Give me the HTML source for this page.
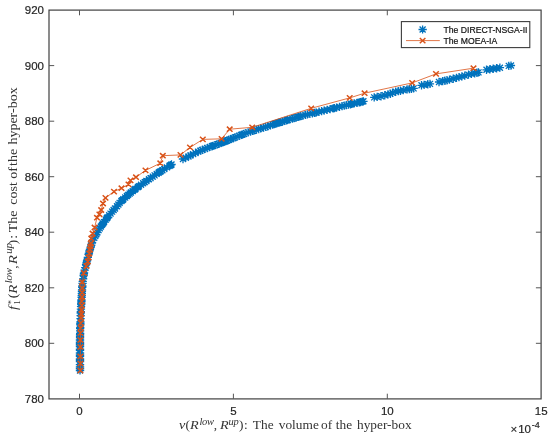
<!DOCTYPE html>
<html lang="en"><head><meta charset="utf-8"><title>Pareto fronts</title>
<style>
html,body{margin:0;padding:0;background:#fff}
svg{display:block}
.t{font-family:"Liberation Sans",Arial,Helvetica,sans-serif;font-size:11.5px;fill:#262626;stroke:#262626;stroke-width:.2px}
.lg{font-family:"Liberation Sans",Arial,Helvetica,sans-serif;font-size:9px;fill:#111;stroke:#111;stroke-width:.2px}
.lab{font-family:"Liberation Serif","Times New Roman",serif;font-size:12.5px;fill:#333}
.it{font-style:italic;font-size:13.3px}
.sup{font-size:9.8px;letter-spacing:-.25px}
.sub{font-size:7.5px}
</style></head><body>
<svg width="550" height="439" viewBox="0 0 550 439">
<rect width="550" height="439" fill="#fff"/>
<rect x="49.0" y="10.1" width="492.1" height="388.8" fill="#fff" stroke="#404040" stroke-width="1.2"/>
<path d="M79.5 398.85V393.7M79.5 10.1V15.3M233.4 398.85V393.7M233.4 10.1V15.3M387.3 398.85V393.7M387.3 10.1V15.3M49.0 343.3H54.2M541.1 343.3H535.9M49.0 287.8H54.2M541.1 287.8H535.9M49.0 232.2H54.2M541.1 232.2H535.9M49.0 176.7H54.2M541.1 176.7H535.9M49.0 121.2H54.2M541.1 121.2H535.9M49.0 65.6H54.2M541.1 65.6H535.9" stroke="#555" stroke-width="1" fill="none"/>
<text class="t" transform="translate(79.5,414.5) scale(1.0,1)" text-anchor="middle">0</text>
<text class="t" transform="translate(233.4,414.5) scale(1.0,1)" text-anchor="middle">5</text>
<text class="t" transform="translate(387.3,414.5) scale(1.0,1)" text-anchor="middle">10</text>
<text class="t" transform="translate(541.2,414.5) scale(1.0,1)" text-anchor="middle">15</text>
<text class="t" transform="translate(44,402.8) scale(1.0,1)" text-anchor="end">780</text>
<text class="t" transform="translate(44,347.2) scale(1.0,1)" text-anchor="end">800</text>
<text class="t" transform="translate(44,291.7) scale(1.0,1)" text-anchor="end">820</text>
<text class="t" transform="translate(44,236.1) scale(1.0,1)" text-anchor="end">840</text>
<text class="t" transform="translate(44,180.6) scale(1.0,1)" text-anchor="end">860</text>
<text class="t" transform="translate(44,125.1) scale(1.0,1)" text-anchor="end">880</text>
<text class="t" transform="translate(44,69.5) scale(1.0,1)" text-anchor="end">900</text>
<text class="t" transform="translate(44,14) scale(1.0,1)" text-anchor="end">920</text>
<text class="t" y="432.9"><tspan x="510.4">×</tspan><tspan x="518.2">10</tspan><tspan x="531.7" dy="-5.2" font-size="9">-4</tspan></text>
<path d="M370.1 97.4H378.3M374.2 93.2V101.6M371.2 94.4L377.2 100.4M371.2 100.4L377.2 94.4M373.1 96.9H381.3M377.2 92.8V101.1M374.2 93.9L380.2 99.9M374.2 99.9L380.2 93.9M376.9 96.2H385.1M381 92V100.4M378 93.2L384 99.2M378 99.2L384 93.2M380.7 95.3H388.9M384.8 91.1V99.5M381.8 92.3L387.8 98.3M381.8 98.3L387.8 92.3M383.9 94.4H392.1M388 90.2V98.6M385 91.4L391 97.4M385 97.4L391 91.4M386.2 93.7H394.4M390.3 89.5V97.9M387.3 90.7L393.3 96.7M387.3 96.7L393.3 90.7M75.8 370.5H84.2M80 366.4V374.6M77 367.5L83 373.5M77 373.5L83 367.5M75.8 368.5H84.2M80 364.4V372.6M77 365.5L83 371.5M77 371.5L83 365.5M75.8 366.8H84.2M80 362.7V370.9M77 363.8L83 369.8M77 369.8L83 363.8M75.8 364.6H84.2M80 360.5V368.8M77 361.6L83 367.6M77 367.6L83 361.6M75.8 361.5H84.2M80 357.4V365.6M77 358.5L83 364.5M77 364.5L83 358.5M75.8 360.2H84.2M80 356.1V364.3M77 357.2L83 363.2M77 363.2L83 357.2M75.8 358.9H84.2M80 354.8V363M77 355.9L83 361.9M77 361.9L83 355.9M75.8 356.3H84.2M80 352.2V360.4M77 353.3L83 359.3M77 359.3L83 353.3M75.8 355H84.2M80 350.9V359.1M77 352L83 358M77 358L83 352M75.8 353H84.2M80 348.9V357.1M77 350L83 356M77 356L83 350M75.8 350.4H84.2M80 346.2V354.5M77 347.4L83 353.4M77 353.4L83 347.4M75.8 349.1H84.2M80 345V353.2M77 346.1L83 352.1M77 352.1L83 346.1M75.8 346.5H84.2M80 342.4V350.6M77 343.5L83 349.5M77 349.5L83 343.5M75.8 344.8H84.2M80 340.7V348.9M77 341.8L83 347.8M77 347.8L83 341.8M75.8 343.5H84.2M80 339.4V347.6M77 340.5L83 346.5M77 346.5L83 340.5M75.8 342.2H84.2M80 338.1V346.3M77 339.2L83 345.2M77 345.2L83 339.2M75.8 340H84.2M80 335.9V344.1M77 337L83 343M77 343L83 337M75.9 337.8H84.2M80 333.7V342M77 334.8L83 340.8M77 340.8L83 334.8M75.9 336.5H84.2M80.1 332.4V340.7M77.1 333.5L83.1 339.5M77.1 339.5L83.1 333.5M75.9 334.8H84.2M80.1 330.7V339M77.1 331.8L83.1 337.8M77.1 337.8L83.1 331.8M76 333.5H84.3M80.1 329.4V337.7M77.1 330.5L83.1 336.5M77.1 336.5L83.1 330.5M76 330.9H84.3M80.2 326.8V335.1M77.2 327.9L83.2 333.9M77.2 333.9L83.2 327.9M76 328.7H84.3M80.2 324.6V332.9M77.2 325.7L83.2 331.7M77.2 331.7L83.2 325.7M76.1 327.4H84.4M80.2 323.3V331.6M77.2 324.4L83.2 330.4M77.2 330.4L83.2 324.4M76.2 324.8H84.5M80.3 320.7V329M77.3 321.8L83.3 327.8M77.3 327.8L83.3 321.8M76.2 323.5H84.5M80.4 319.4V327.7M77.4 320.5L83.4 326.5M77.4 326.5L83.4 320.5M76.3 321.8H84.6M80.4 317.7V326M77.4 318.8L83.4 324.8M77.4 324.8L83.4 318.8M76.4 318.7H84.7M80.6 314.6V322.9M77.6 315.7L83.6 321.7M77.6 321.7L83.6 315.7M76.5 315.6H84.8M80.7 311.5V319.8M77.7 312.6L83.7 318.6M77.7 318.6L83.7 312.6M76.6 313H84.9M80.8 308.9V317.2M77.8 310L83.8 316M77.8 316L83.8 310M76.7 311.7H85M80.9 307.6V315.9M77.9 308.7L83.9 314.7M77.9 314.7L83.9 308.7M76.8 309.1H85.1M81 305V313.3M78 306.1L84 312.1M78 312.1L84 306.1M76.9 306.5H85.2M81.1 302.4V310.7M78.1 303.5L84.1 309.5M78.1 309.5L84.1 303.5M77.1 304.3H85.4M81.2 300.2V308.5M78.2 301.3L84.2 307.3M78.2 307.3L84.2 301.3M77.1 303H85.4M81.3 298.9V307.2M78.3 300L84.3 306M78.3 306L84.3 300M77.3 301.3H85.6M81.4 297.2V305.5M78.4 298.3L84.4 304.3M78.4 304.3L84.4 298.3M77.3 300H85.6M81.5 295.9V304.2M78.5 297L84.5 303M78.5 303L84.5 297M77.5 297.4H85.8M81.6 293.3V301.6M78.6 294.4L84.6 300.4M78.6 300.4L84.6 294.4M77.6 295.7H85.9M81.7 291.6V299.9M78.7 292.7L84.7 298.7M78.7 298.7L84.7 292.7M77.7 293.7H86M81.9 289.6V297.9M78.9 290.7L84.9 296.7M78.9 296.7L84.9 290.7M77.8 291.5H86.1M82 287.4V295.7M79 288.5L85 294.5M79 294.5L85 288.5M77.9 289.9H86.2M82.1 285.7V294M79.1 286.9L85.1 292.9M79.1 292.9L85.1 286.9M78.1 287.3H86.4M82.2 283.1V291.4M79.2 284.3L85.2 290.3M79.2 290.3L85.2 284.3M78.2 286H86.5M82.3 281.8V290.1M79.3 283L85.3 289M79.3 289L85.3 283M78.4 283.4H86.7M82.5 279.2V287.5M79.5 280.4L85.5 286.4M79.5 286.4L85.5 280.4M78.6 281.4H86.9M82.7 277.2V285.5M79.7 278.4L85.7 284.4M79.7 284.4L85.7 278.4M79 278.8H87.3M83.1 274.7V283M80.1 275.8L86.1 281.8M80.1 281.8L86.1 275.8M79.5 275.7H87.8M83.6 271.6V279.9M80.6 272.7L86.6 278.7M80.6 278.7L86.6 272.7M79.7 274.1H88M83.9 269.9V278.2M80.9 271.1L86.9 277.1M80.9 277.1L86.9 271.1M79.9 272.8H88.2M84.1 268.6V276.9M81.1 269.8L87.1 275.8M81.1 275.8L87.1 269.8M80.5 270.2H88.8M84.6 266.1V274.4M81.6 267.2L87.6 273.2M81.6 273.2L87.6 267.2M81.1 267.7H89.4M85.3 263.6V271.9M82.3 264.7L88.3 270.7M82.3 270.7L88.3 264.7M81.9 264.7H90.2M86 260.6V268.9M83 261.7L89 267.7M83 267.7L89 261.7M82.3 263.1H90.6M86.4 258.9V267.2M83.4 260.1L89.4 266.1M83.4 266.1L89.4 260.1M82.8 261.1H91.1M86.9 257V265.3M83.9 258.1L89.9 264.1M83.9 264.1L89.9 258.1M83.1 259.9H91.4M87.2 255.7V264M84.2 256.9L90.2 262.9M84.2 262.9L90.2 256.9M83.7 257.3H92M87.9 253.2V261.5M84.9 254.3L90.9 260.3M84.9 260.3L90.9 254.3M84.4 254.3H92.7M88.6 250.2V258.5M85.6 251.3L91.6 257.3M85.6 257.3L91.6 251.3M84.8 253.1H93.1M88.9 248.9V257.2M85.9 250.1L91.9 256.1M85.9 256.1L91.9 250.1M85.4 250.6H93.7M89.6 246.4V254.7M86.6 247.6L92.6 253.6M86.6 253.6L92.6 247.6M85.8 249.3H94.1M90 245.2V253.5M87 246.3L93 252.3M87 252.3L93 246.3M86.6 246.8H94.9M90.8 242.7V251M87.8 243.8L93.8 249.8M87.8 249.8L93.8 243.8M87.1 245.2H95.4M91.3 241.1V249.4M88.3 242.2L94.3 248.2M88.3 248.2L94.3 242.2M87.8 243.1H96.1M92 239V247.3M89 240.1L95 246.1M89 246.1L95 240.1M88.8 240.2H97.1M93 236.1V244.4M90 237.2L96 243.2M90 243.2L96 237.2M90.1 237.9H98.4M94.2 233.8V242.1M91.2 234.9L97.2 240.9M91.2 240.9L97.2 234.9M91.2 236H99.5M95.3 231.9V240.2M92.3 233L98.3 239M92.3 239L98.3 233M92.1 234.3H100.4M96.3 230.1V238.4M93.3 231.3L99.3 237.3M93.3 237.3L99.3 231.3M93.2 232.4H101.5M97.4 228.2V236.5M94.4 229.4L100.4 235.4M94.4 235.4L100.4 229.4M94.5 230.1H102.8M98.6 225.9V234.2M95.6 227.1L101.6 233.1M95.6 233.1L101.6 227.1M95.6 228.2H103.9M99.8 224.1V232.4M96.8 225.2L102.8 231.2M96.8 231.2L102.8 225.2M96.7 226.5H105M100.9 222.4V230.7M97.9 223.5L103.9 229.5M97.9 229.5L103.9 223.5M97.9 224.9H106.2M102 220.7V229M99 221.9L105 227.9M99 227.9L105 221.9M98.9 223.5H107.2M103 219.4V227.7M100 220.5L106 226.5M100 226.5L106 220.5M99.8 222.1H108.1M104 218V226.3M101 219.1L107 225.1M101 225.1L107 219.1M101.6 219.6H109.9M105.8 215.5V223.8M102.8 216.6L108.8 222.6M102.8 222.6L108.8 216.6M102.7 218.3H111M106.8 214.1V222.4M103.8 215.3L109.8 221.3M103.8 221.3L109.8 215.3M103.5 217.2H111.8M107.6 213.1V221.4M104.6 214.2L110.6 220.2M104.6 220.2L110.6 214.2M105.1 215.2H113.4M109.2 211V219.3M106.2 212.2L112.2 218.2M106.2 218.2L112.2 212.2M106.3 213.6H114.6M110.5 209.5V217.8M107.5 210.6L113.5 216.6M107.5 216.6L113.5 210.6M108 211.6H116.3M112.1 207.5V215.8M109.1 208.6L115.1 214.6M109.1 214.6L115.1 208.6M109.5 210H117.8M113.6 205.8V214.1M110.6 207L116.6 213M110.6 213L116.6 207M110.8 208.5H119.1M115 204.4V212.7M112 205.5L118 211.5M112 211.5L118 205.5M112.9 206.2H121.2M117 202V210.3M114 203.2L120 209.2M114 209.2L120 203.2M114.2 204.5H122.5M118.4 200.3V208.6M115.4 201.5L121.4 207.5M115.4 207.5L121.4 201.5M115.5 202.9H123.8M119.6 198.7V207M116.6 199.9L122.6 205.9M116.6 205.9L122.6 199.9M117.2 201H125.5M121.4 196.9V205.2M118.4 198L124.4 204M118.4 204L124.4 198M118.2 200.1H126.5M122.4 196V204.3M119.4 197.1L125.4 203.1M119.4 203.1L125.4 197.1M119.2 199.3H127.5M123.3 195.1V203.4M120.3 196.3L126.3 202.3M120.3 202.3L126.3 196.3M121.1 197.5H129.4M125.2 193.4V201.7M122.2 194.5L128.2 200.5M122.2 200.5L128.2 194.5M122.7 196H131M126.9 191.9V200.2M123.9 193L129.9 199M123.9 199L129.9 193M124 194.9H132.3M128.1 190.7V199M125.1 191.9L131.1 197.9M125.1 197.9L131.1 191.9M125.5 193.6H133.8M129.6 189.4V197.7M126.6 190.6L132.6 196.6M126.6 196.6L132.6 190.6M126.8 192.5H135.1M130.9 188.3V196.6M127.9 189.5L133.9 195.5M127.9 195.5L133.9 189.5M128.5 191.1H136.8M132.7 187V195.3M129.7 188.1L135.7 194.1M129.7 194.1L135.7 188.1M130.3 189.8H138.6M134.4 185.6V193.9M131.4 186.8L137.4 192.8M131.4 192.8L137.4 186.8M131.3 189H139.6M135.4 184.9V193.2M132.4 186L138.4 192M132.4 192L138.4 186M133.8 187.1H142.1M137.9 183V191.3M134.9 184.1L140.9 190.1M134.9 190.1L140.9 184.1M134.8 186.3H143.1M138.9 182.2V190.5M135.9 183.3L141.9 189.3M135.9 189.3L141.9 183.3M136.9 184.8H145.2M141 180.6V188.9M138 181.8L144 187.8M138 187.8L144 181.8M139 183.3H147.3M143.2 179.1V187.4M140.2 180.3L146.2 186.3M140.2 186.3L146.2 180.3M140.6 182.1H148.9M144.8 178V186.3M141.8 179.1L147.8 185.1M141.8 185.1L147.8 179.1M142.3 181H150.6M146.4 176.8V185.1M143.4 178L149.4 184M143.4 184L149.4 178M144.8 179.2H153.1M149 175.1V183.4M146 176.2L152 182.2M146 182.2L152 176.2M146.5 178.1H154.8M150.6 173.9V182.2M147.6 175.1L153.6 181.1M147.6 181.1L153.6 175.1M148.6 176.6H156.9M152.8 172.5V180.8M149.8 173.6L155.8 179.6M149.8 179.6L155.8 173.6M150.4 175.4H158.7M154.6 171.2V179.5M151.6 172.4L157.6 178.4M151.6 178.4L157.6 172.4M152.6 173.9H160.9M156.7 169.8V178.1M153.7 170.9L159.7 176.9M153.7 176.9L159.7 170.9M154.4 172.7H162.7M158.6 168.5V176.8M155.6 169.7L161.6 175.7M155.6 175.7L161.6 169.7M155.5 171.9H163.8M159.6 167.8V176.1M156.6 168.9L162.6 174.9M156.6 174.9L162.6 168.9M156.6 171.2H164.9M160.7 167.1V175.4M157.7 168.2L163.7 174.2M157.7 174.2L163.7 168.2M158.3 170.2H166.6M162.4 166V174.3M159.4 167.2L165.4 173.2M159.4 173.2L165.4 167.2M160.1 169H168.4M164.3 164.9V173.2M161.3 166L167.3 172M161.3 172L167.3 166M162.8 167.4H171.1M166.9 163.3V171.6M163.9 164.4L169.9 170.4M163.9 170.4L169.9 164.4M165.4 165.8H173.7M169.6 161.6V169.9M166.6 162.8L172.6 168.8M166.6 168.8L172.6 162.8M166.5 165.1H174.8M170.7 160.9V169.2M167.7 162.1L173.7 168.1M167.7 168.1L173.7 162.1M167.3 164.5H175.7M171.5 160.3V168.7M168.5 161.5L174.5 167.5M168.5 167.5L174.5 161.5M178.8 159H187.2M183 154.8V163.2M180 156L186 162M180 162L186 156M181.7 157.7H190M185.8 153.5V161.8M182.8 154.7L188.8 160.7M182.8 160.7L188.8 154.7M184.5 156.4H192.8M188.6 152.2V160.5M185.6 153.4L191.6 159.4M185.6 159.4L191.6 153.4M186.3 155.5H194.6M190.4 151.3V159.6M187.4 152.5L193.4 158.5M187.4 158.5L193.4 152.5M189 154.1H197.3M193.2 150V158.3M190.2 151.1L196.2 157.1M190.2 157.1L196.2 151.1M191.4 153H199.7M195.5 148.8V157.1M192.5 150L198.5 156M192.5 156L198.5 150M194.2 151.6H202.5M198.3 147.5V155.8M195.3 148.6L201.3 154.6M195.3 154.6L201.3 148.6M196.2 150.7H204.5M200.3 146.5V154.8M197.3 147.7L203.3 153.7M197.3 153.7L203.3 147.7M198 150H206.3M202.2 145.8V154.1M199.2 147L205.2 153M199.2 153L205.2 147M200.9 148.8H209.2M205.1 144.7V153M202.1 145.8L208.1 151.8M202.1 151.8L208.1 145.8M203 148H211.3M207.1 143.9V152.2M204.1 145L210.1 151M204.1 151L210.1 145M205.8 146.9H214.1M210 142.8V151.1M207 143.9L213 149.9M207 149.9L213 143.9M207.7 146.2H216M211.9 142.1V150.4M208.9 143.2L214.9 149.2M208.9 149.2L214.9 143.2M209 145.8H217.3M213.1 141.7V150M210.1 142.8L216.1 148.8M210.1 148.8L216.1 142.8M211 145.1H219.3M215.2 140.9V149.2M212.2 142.1L218.2 148.1M212.2 148.1L218.2 142.1M212.9 144.4H221.2M217.1 140.3V148.6M214.1 141.4L220.1 147.4M214.1 147.4L220.1 141.4M214.5 143.9H222.8M218.7 139.7V148M215.7 140.9L221.7 146.9M215.7 146.9L221.7 140.9M217 143H225.3M221.1 138.8V147.1M218.1 140L224.1 146M218.1 146L224.1 140M218.2 142.5H226.5M222.3 138.3V146.6M219.3 139.5L225.3 145.5M219.3 145.5L225.3 139.5M220.2 141.7H228.5M224.4 137.5V145.8M221.4 138.7L227.4 144.7M221.4 144.7L227.4 138.7M221.4 141.2H229.7M225.6 137V145.3M222.6 138.2L228.6 144.2M222.6 144.2L228.6 138.2M223 140.5H231.3M227.1 136.4V144.7M224.1 137.5L230.1 143.5M224.1 143.5L230.1 137.5M224.9 139.8H233.2M229 135.6V143.9M226 136.8L232 142.8M226 142.8L232 136.8M226.4 139.2H234.7M230.6 135V143.3M227.6 136.2L233.6 142.2M227.6 142.2L233.6 136.2M229.3 138H237.6M233.5 133.9V142.2M230.5 135L236.5 141M230.5 141L236.5 135M230.9 137.4H239.2M235 133.2V141.5M232 134.4L238 140.4M232 140.4L238 134.4M232.9 136.6H241.2M237.1 132.4V140.7M234.1 133.6L240.1 139.6M234.1 139.6L240.1 133.6M235 135.8H243.3M239.1 131.6V139.9M236.1 132.8L242.1 138.8M236.1 138.8L242.1 132.8M237 135H245.3M241.2 130.8V139.1M238.2 132L244.2 138M238.2 138L244.2 132M238.2 134.5H246.5M242.4 130.4V138.7M239.4 131.5L245.4 137.5M239.4 137.5L245.4 131.5M239.8 133.9H248.1M244 129.7V138M241 130.9L247 136.9M241 136.9L247 130.9M241.9 133.1H250.2M246 129V137.3M243 130.1L249 136.1M243 136.1L249 130.1M244 132.4H252.3M248.1 128.3V136.6M245.1 129.4L251.1 135.4M245.1 135.4L251.1 129.4M246.4 131.6H254.7M250.6 127.4V135.7M247.6 128.6L253.6 134.6M247.6 134.6L253.6 128.6M248.3 131H256.6M252.5 126.8V135.1M249.5 128L255.5 134M249.5 134L255.5 128M249.9 130.4H258.2M254.1 126.3V134.6M251.1 127.4L257.1 133.4M251.1 133.4L257.1 127.4M252 129.8H260.3M256.2 125.6V133.9M253.2 126.8L259.2 132.8M253.2 132.8L259.2 126.8M254.5 129H262.8M258.7 124.9V133.2M255.7 126L261.7 132M255.7 132L261.7 126M256.5 128.5H264.8M260.6 124.3V132.6M257.6 125.5L263.6 131.5M257.6 131.5L263.6 125.5M259.4 127.6H267.7M263.6 123.5V131.8M260.6 124.6L266.6 130.6M260.6 130.6L266.6 124.6M261.5 127H269.8M265.7 122.8V131.1M262.7 124L268.7 130M262.7 130L268.7 124M263.4 126.3H271.7M267.6 122.2V130.5M264.6 123.3L270.6 129.3M264.6 129.3L270.6 123.3M266.4 125.3H274.7M270.5 121.2V129.5M267.5 122.3L273.5 128.3M267.5 128.3L273.5 122.3M268.5 124.6H276.8M272.6 120.5V128.8M269.6 121.6L275.6 127.6M269.6 127.6L275.6 121.6M270.1 124.1H278.4M274.2 119.9V128.2M271.2 121.1L277.2 127.1M271.2 127.1L277.2 121.1M271.7 123.5H280M275.8 119.4V127.7M272.8 120.5L278.8 126.5M272.8 126.5L278.8 120.5M272.9 123.2H281.2M277.1 119V127.3M274.1 120.2L280.1 126.2M274.1 126.2L280.1 120.2M274.6 122.7H282.9M278.7 118.5V126.8M275.7 119.7L281.7 125.7M275.7 125.7L281.7 119.7M276.2 122.2H284.5M280.3 118V126.3M277.3 119.2L283.3 125.2M277.3 125.2L283.3 119.2M277.8 121.7H286.1M282 117.6V125.9M279 118.7L285 124.7M279 124.7L285 118.7M280.8 120.8H289.1M284.9 116.7V125M281.9 117.8L287.9 123.8M281.9 123.8L287.9 117.8M282.4 120.3H290.7M286.6 116.2V124.5M283.6 117.3L289.6 123.3M283.6 123.3L289.6 117.3M283.7 120H292M287.8 115.8V124.1M284.8 117L290.8 123M284.8 123L290.8 117M285.8 119.3H294.1M289.9 115.2V123.5M286.9 116.3L292.9 122.3M286.9 122.3L292.9 116.3M288.3 118.6H296.6M292.4 114.4V122.7M289.4 115.6L295.4 121.6M289.4 121.6L295.4 115.6M289.9 118.1H298.2M294 113.9V122.2M291 115.1L297 121.1M291 121.1L297 115.1M291.8 117.5H300.1M296 113.4V121.7M293 114.5L299 120.5M293 120.5L299 114.5M293.7 117H302M297.9 112.8V121.1M294.9 114L300.9 120M294.9 120L300.9 114M295 116.6H303.3M299.1 112.5V120.8M296.1 113.6L302.1 119.6M296.1 119.6L302.1 113.6M296.6 116.2H304.9M300.8 112V120.3M297.8 113.2L303.8 119.2M297.8 119.2L303.8 113.2M298.7 115.6H307M302.9 111.4V119.7M299.9 112.6L305.9 118.6M299.9 118.6L305.9 112.6M301.2 114.9H309.5M305.4 110.8V119.1M302.4 111.9L308.4 117.9M302.4 117.9L308.4 111.9M303.2 114.5H311.5M307.3 110.3V118.6M304.3 111.5L310.3 117.5M304.3 117.5L310.3 111.5M305.7 113.9H314M309.9 109.8V118.1M306.9 110.9L312.9 116.9M306.9 116.9L312.9 110.9M308.3 113.4H316.6M312.4 109.2V117.5M309.4 110.4L315.4 116.4M309.4 116.4L315.4 110.4M310.2 112.9H318.5M314.4 108.8V117.1M311.4 109.9L317.4 115.9M311.4 115.9L317.4 109.9M311.9 112.5H320.2M316 108.4V116.7M313 109.5L319 115.5M313 115.5L319 109.5M314.9 111.8H323.2M319 107.6V115.9M316 108.8L322 114.8M316 114.8L322 108.8M317.4 111.2H325.7M321.6 107V115.3M318.6 108.2L324.6 114.2M318.6 114.2L324.6 108.2M319.9 110.5H328.2M324.1 106.4V114.7M321.1 107.5L327.1 113.5M321.1 113.5L327.1 107.5M323 109.8H331.3M327.1 105.7V114M324.1 106.8L330.1 112.8M324.1 112.8L330.1 106.8M326 109.1H334.3M330.1 105V113.3M327.1 106.1L333.1 112.1M327.1 112.1L333.1 106.1M329 108.4H337.3M333.1 104.3V112.6M330.1 105.4L336.1 111.4M330.1 111.4L336.1 105.4M330.3 108.1H338.6M334.4 104V112.3M331.4 105.1L337.4 111.1M331.4 111.1L337.4 105.1M332.4 107.6H340.7M336.5 103.4V111.7M333.5 104.6L339.5 110.6M333.5 110.6L339.5 104.6M335.4 106.8H343.7M339.5 102.7V111M336.5 103.8L342.5 109.8M336.5 109.8L342.5 103.8M337.9 106.2H346.2M342.1 102V110.3M339.1 103.2L345.1 109.2M339.1 109.2L345.1 103.2M340 105.6H348.3M344.2 101.5V109.8M341.2 102.6L347.2 108.6M341.2 108.6L347.2 102.6M342.2 105.1H350.5M346.3 101V109.3M343.3 102.1L349.3 108.1M343.3 108.1L349.3 102.1M344.3 104.7H352.6M348.5 100.5V108.8M345.5 101.7L351.5 107.7M345.5 107.7L351.5 101.7M346.5 104.2H354.8M350.6 100.1V108.4M347.6 101.2L353.6 107.2M347.6 107.2L353.6 101.2M347.8 103.9H356.1M351.9 99.8V108.1M348.9 100.9L354.9 106.9M348.9 106.9L354.9 100.9M349.9 103.5H358.2M354.1 99.3V107.6M351.1 100.5L357.1 106.5M351.1 106.5L357.1 100.5M352.9 102.8H361.2M357.1 98.7V107M354.1 99.8L360.1 105.8M354.1 105.8L360.1 99.8M355.1 102.3H363.4M359.2 98.2V106.5M356.2 99.3L362.2 105.3M356.2 105.3L362.2 99.3M356.3 102H364.6M360.5 97.9V106.2M357.5 99L363.5 105M357.5 105L363.5 99M358 101.6H366.3M362.2 97.5V105.8M359.2 98.6L365.2 104.6M359.2 104.6L365.2 98.6M359.3 101.3H367.6M363.4 97.2V105.5M360.4 98.3L366.4 104.3M360.4 104.3L366.4 98.3M388.4 92.8H396.6M392.5 88.6V97M389.5 89.8L395.5 95.8M389.5 95.8L395.5 89.8M391.6 91.7H399.9M395.7 87.6V95.9M392.7 88.7L398.7 94.7M392.7 94.7L398.7 88.7M394.1 91.2H402.4M398.3 87V95.3M395.3 88.2L401.3 94.2M395.3 94.2L401.3 88.2M396.3 90.7H404.6M400.4 86.6V94.9M397.4 87.7L403.4 93.7M397.4 93.7L403.4 87.7M399.2 90.1H407.5M403.3 85.9V94.2M400.3 87.1L406.3 93.1M400.3 93.1L406.3 87.1M402.9 89.4H411.2M407.1 85.2V93.5M404.1 86.4L410.1 92.4M404.1 92.4L410.1 86.4M405.1 89.1H413.4M409.3 84.9V93.2M406.3 86.1L412.3 92.1M406.3 92.1L412.3 86.1M407.3 88.8H415.6M411.4 84.6V92.9M408.4 85.8L414.4 91.8M408.4 91.8L414.4 85.8M409.5 88.4H417.8M413.6 84.3V92.6M410.6 85.4L416.6 91.4M410.6 91.4L416.6 85.4M417.4 85.3H425.6M421.5 81.1V89.5M418.5 82.3L424.5 88.3M418.5 88.3L424.5 82.3M419.9 84.9H428.2M424.1 80.7V89M421.1 81.9L427.1 87.9M421.1 87.9L427.1 81.9M423.7 84.2H432M427.8 80.1V88.4M424.8 81.2L430.8 87.2M424.8 87.2L430.8 81.2M425.8 83.9H434.1M430 79.7V88M427 80.9L433 86.9M427 86.9L433 80.9M434.9 82H443.1M439 77.8V86.2M436 79L442 85M436 85L442 79M438.6 81.2H446.9M442.7 77V85.3M439.7 78.2L445.7 84.2M439.7 84.2L445.7 78.2M440.7 80.7H449M444.9 76.6V84.9M441.9 77.7L447.9 83.7M441.9 83.7L447.9 77.7M442.9 80.2H451.2M447 76.1V84.4M444 77.2L450 83.2M444 83.2L450 77.2M445.4 79.6H453.7M449.5 75.5V83.8M446.5 76.6L452.5 82.6M446.5 82.6L452.5 76.6M449.1 78.7H457.4M453.2 74.6V82.9M450.2 75.7L456.2 81.7M450.2 81.7L456.2 75.7M452.4 77.9H460.7M456.5 73.7V82M453.5 74.9L459.5 80.9M453.5 80.9L459.5 74.9M454.9 77.2H463.2M459 73V81.3M456 74.2L462 80.2M456 80.2L462 74.2M457.8 76.4H466.1M461.9 72.3V80.6M458.9 73.4L464.9 79.4M458.9 79.4L464.9 73.4M460.7 75.6H469M464.8 71.5V79.8M461.8 72.6L467.8 78.6M461.8 78.6L467.8 72.6M464.3 74.6H472.6M468.5 70.5V78.8M465.5 71.6L471.5 77.6M465.5 77.6L471.5 71.6M467.2 73.9H475.5M471.4 69.8V78.1M468.4 70.9L474.4 76.9M468.4 76.9L474.4 70.9M470.6 73.2H478.9M474.7 69.1V77.4M471.7 70.2L477.7 76.2M471.7 76.2L477.7 70.2M472.7 72.7H481M476.9 68.6V76.9M473.9 69.7L479.9 75.7M473.9 75.7L479.9 69.7M474.4 72.4H482.6M478.5 68.2V76.6M475.5 69.4L481.5 75.4M475.5 75.4L481.5 69.4M482.4 69.8H490.6M486.5 65.6V74M483.5 66.8L489.5 72.8M483.5 72.8L489.5 66.8M485.7 69.3H494M489.9 65.1V73.4M486.9 66.3L492.9 72.3M486.9 72.3L492.9 66.3M489.1 68.7H497.4M493.2 64.6V72.9M490.2 65.7L496.2 71.7M490.2 71.7L496.2 65.7M492.4 68.2H500.7M496.6 64.1V72.4M493.6 65.2L499.6 71.2M493.6 71.2L499.6 65.2M495.8 67.7H504.1M499.9 63.5V71.8M496.9 64.7L502.9 70.7M496.9 70.7L502.9 64.7M504.7 65.9H513M508.8 61.8V70.1M505.8 62.9L511.8 68.9M505.8 68.9L511.8 62.9M506.8 65.5H515.1M511 61.4V69.7M508 62.5L514 68.5M508 68.5L514 62.5" stroke="#0072BD" stroke-width="1.3" fill="none"/>
<path d="M80.4 370.5L80.4 363.5L80.4 356.5L80.4 347L80.4 340L80.5 333L80.8 328L81 323L81.2 318L81.4 314L81.6 310L81.8 305.5L82 301L82.1 297L82.2 292.5L82.2 288L82.2 282L84 273L86.5 266L87.8 261.5L88.6 257.5L89.3 253.5L90 249.5L90.5 246.5L90.8 243.5L91.3 238.5L92.6 233.5L94.6 227.5L97 217.7L99.4 214.3L101.2 210L103 203.5L105.5 197.9L114 191.6L121.5 188.2L128.5 184.4L130.5 180.4L136 177.2L145.5 170.4L160.3 163.2L162.8 155.7L180.5 154.9L190 147.4L202.8 139.4L221.6 138.8L229.7 129.2L252.2 127.3L311.2 108.3L349.7 97.9L364.6 93.2L412.2 82.9L436 73.9L473.5 68.2" stroke="#D95319" stroke-width="0.8" fill="none" stroke-linejoin="round"/>
<path d="M77.6 367.9L83.2 373.1M77.6 373.1L83.2 367.9M77.6 360.9L83.2 366.1M77.6 366.1L83.2 360.9M77.6 353.9L83.2 359.1M77.6 359.1L83.2 353.9M77.6 344.4L83.2 349.6M77.6 349.6L83.2 344.4M77.6 337.4L83.2 342.6M77.6 342.6L83.2 337.4M77.7 330.4L83.3 335.6M77.7 335.6L83.3 330.4M78 325.4L83.6 330.6M78 330.6L83.6 325.4M78.2 320.4L83.8 325.6M78.2 325.6L83.8 320.4M78.4 315.4L84 320.6M78.4 320.6L84 315.4M78.6 311.4L84.2 316.6M78.6 316.6L84.2 311.4M78.8 307.4L84.4 312.6M78.8 312.6L84.4 307.4M79 302.9L84.6 308.1M79 308.1L84.6 302.9M79.2 298.4L84.8 303.6M79.2 303.6L84.8 298.4M79.3 294.4L84.9 299.6M79.3 299.6L84.9 294.4M79.4 289.9L85 295.1M79.4 295.1L85 289.9M79.4 285.4L85 290.6M79.4 290.6L85 285.4M79.4 279.4L85 284.6M79.4 284.6L85 279.4M81.2 270.4L86.8 275.6M81.2 275.6L86.8 270.4M83.7 263.4L89.3 268.6M83.7 268.6L89.3 263.4M85 258.9L90.6 264.1M85 264.1L90.6 258.9M85.8 254.9L91.4 260.1M85.8 260.1L91.4 254.9M86.5 250.9L92.1 256.1M86.5 256.1L92.1 250.9M87.2 246.9L92.8 252.1M87.2 252.1L92.8 246.9M87.7 243.9L93.3 249.1M87.7 249.1L93.3 243.9M88 240.9L93.6 246.1M88 246.1L93.6 240.9M88.5 235.9L94.1 241.1M88.5 241.1L94.1 235.9M89.8 230.9L95.4 236.1M89.8 236.1L95.4 230.9M91.8 224.9L97.4 230.1M91.8 230.1L97.4 224.9M94.2 215.1L99.8 220.3M94.2 220.3L99.8 215.1M96.6 211.7L102.2 216.9M96.6 216.9L102.2 211.7M98.4 207.4L104 212.6M98.4 212.6L104 207.4M100.2 200.9L105.8 206.1M100.2 206.1L105.8 200.9M102.7 195.3L108.3 200.5M102.7 200.5L108.3 195.3M111.2 189L116.8 194.2M111.2 194.2L116.8 189M118.7 185.6L124.3 190.8M118.7 190.8L124.3 185.6M125.7 181.8L131.3 187M125.7 187L131.3 181.8M127.7 177.8L133.3 183M127.7 183L133.3 177.8M133.2 174.6L138.8 179.8M133.2 179.8L138.8 174.6M142.7 167.8L148.3 173M142.7 173L148.3 167.8M157.5 160.6L163.1 165.8M157.5 165.8L163.1 160.6M160 153.1L165.6 158.3M160 158.3L165.6 153.1M177.7 152.3L183.3 157.5M177.7 157.5L183.3 152.3M187.2 144.8L192.8 150M187.2 150L192.8 144.8M200 136.8L205.6 142M200 142L205.6 136.8M218.8 136.2L224.4 141.4M218.8 141.4L224.4 136.2M226.9 126.6L232.5 131.8M226.9 131.8L232.5 126.6M249.4 124.7L255 129.9M249.4 129.9L255 124.7M308.4 105.7L314 110.9M308.4 110.9L314 105.7M346.9 95.3L352.5 100.5M346.9 100.5L352.5 95.3M361.8 90.6L367.4 95.8M361.8 95.8L367.4 90.6M409.4 80.3L415 85.5M409.4 85.5L415 80.3M433.2 71.3L438.8 76.5M433.2 76.5L438.8 71.3M470.7 65.6L476.3 70.8M470.7 70.8L476.3 65.6" stroke="#D95319" stroke-width="1.5" fill="none"/>
<rect x="401.4" y="21.6" width="128.4" height="26" fill="#fff" stroke="#3c3c3c" stroke-width="1.1"/>
<path d="M418.5 29.5H426.8M422.6 25.4V33.6M419.6 26.5L425.6 32.5M419.6 32.5L425.6 26.5" stroke="#0072BD" stroke-width="1.3" fill="none"/>
<path d="M406 40.6H439.8" stroke="#D95319" stroke-width="0.8" fill="none"/>
<path d="M419.8 38L425.4 43.2M419.8 43.2L425.4 38" stroke="#D95319" stroke-width="1.5" fill="none"/>
<text class="lg" transform="translate(443.5,32.9) scale(0.96,1)">The DIRECT-NSGA-II</text>
<text class="lg" transform="translate(443.5,43.6) scale(0.96,1)">The MOEA-IA</text>
<text class="lab" transform="translate(0,428.9) scale(1.07,1)"><tspan class="it" x="167.29" y="0">v</tspan><tspan x="173.46" y="0">(</tspan><tspan class="it" x="177.48" y="0">R</tspan><tspan class="it sup" x="186.36" y="-4.3">low</tspan><tspan x="199.81" y="0">, </tspan><tspan class="it" x="205.51" y="0">R</tspan><tspan class="it sup" x="213.64" y="-4.3">up</tspan><tspan x="223.36" y="0">)</tspan><tspan x="228.13" y="0">: </tspan><tspan x="236.31" y="0">The </tspan><tspan x="260.51" y="0">volume </tspan><tspan x="300.09" y="0">of </tspan><tspan x="313.83" y="0">the </tspan><tspan x="333.6" y="0">hyper-box</tspan></text>
<text class="lab" transform="translate(16.7,310.1) rotate(-90) scale(1.12,1)"><tspan class="it" x="0" y="0">f</tspan><tspan class="sub" x="5.27" y="-2.6">*</tspan><tspan class="sub" x="5" y="3.4">1</tspan><tspan x="10.62" y="0">(</tspan><tspan class="it" x="14.64" y="0">R</tspan><tspan class="it sup" x="24.02" y="-4.3">low</tspan><tspan x="36.96" y="0">, </tspan><tspan class="it" x="41.03" y="0">R</tspan><tspan class="it sup" x="50.36" y="-4.3">up</tspan><tspan x="58.48" y="0">)</tspan><tspan x="63.75" y="0">: </tspan><tspan x="69.42" y="0">The </tspan><tspan x="94.15" y="0">cost </tspan><tspan x="117.37" y="0">of </tspan><tspan x="128.66" y="0">the </tspan><tspan x="147.77" y="0">hyper-box</tspan></text>
</svg>
</body></html>
